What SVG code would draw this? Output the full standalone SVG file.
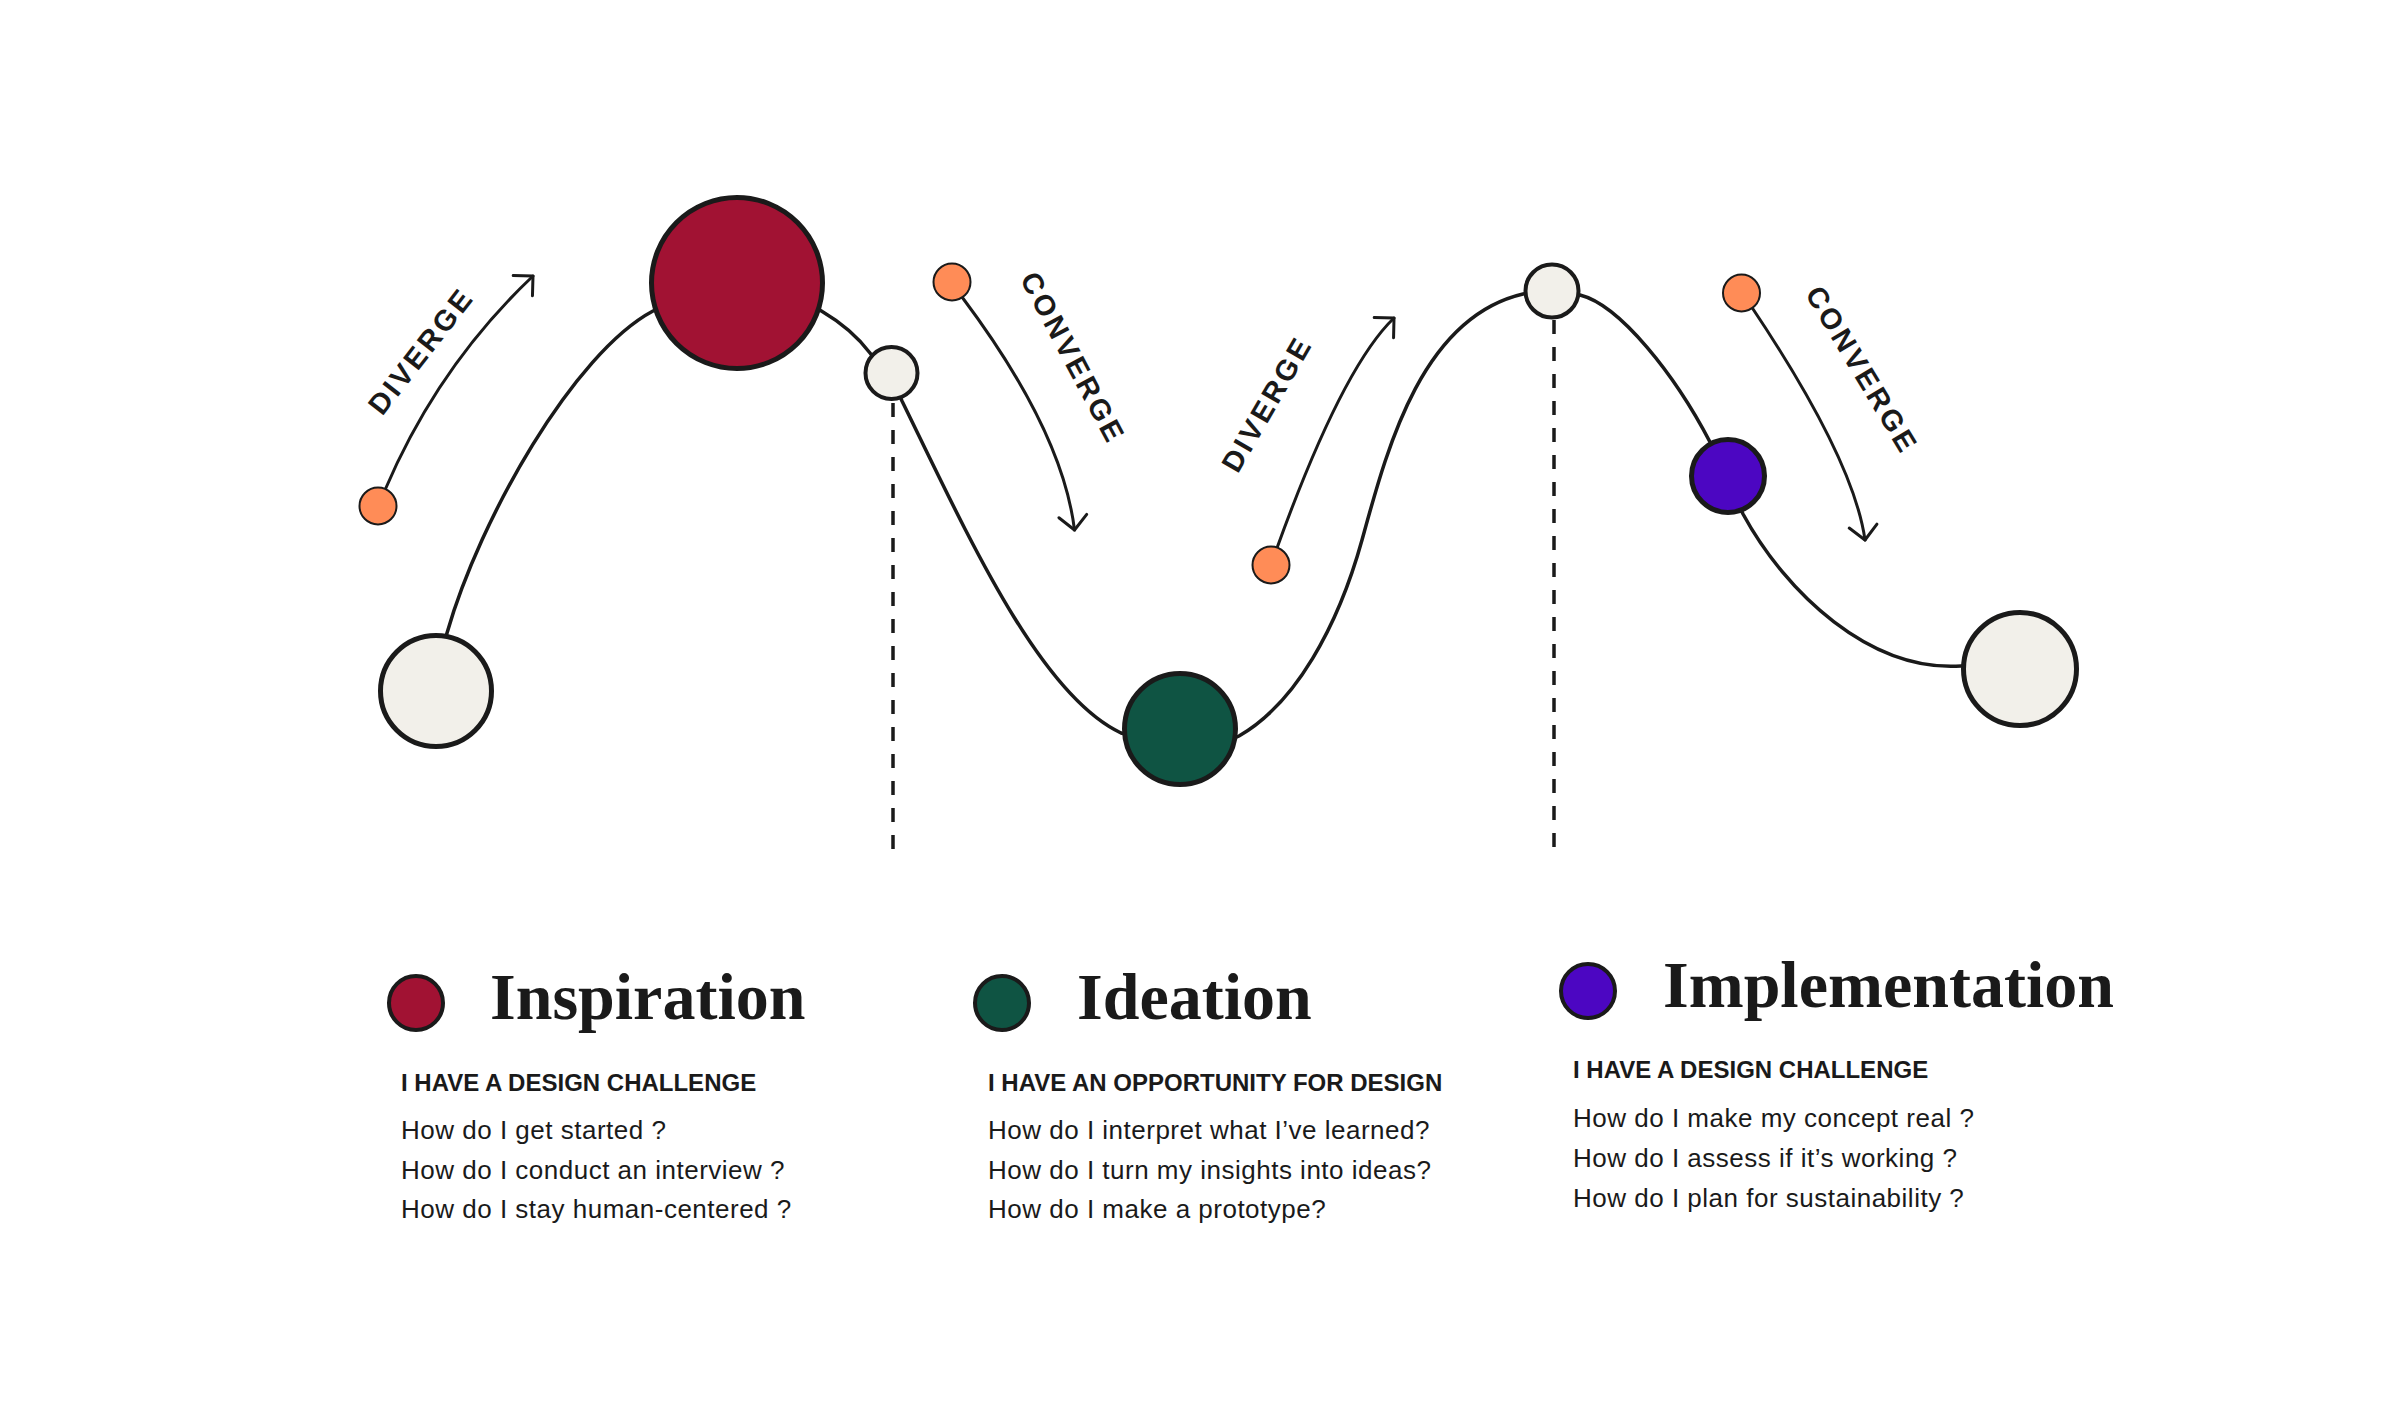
<svg xmlns="http://www.w3.org/2000/svg" width="2384" height="1408" viewBox="0 0 2384 1408">
<defs>
<style>
.curve{fill:none;stroke:#1a1a1a;stroke-width:3.5;stroke-linecap:round}
.arrow{fill:none;stroke:#1a1a1a;stroke-width:3;stroke-linecap:round}
.dash{fill:none;stroke:#1a1a1a;stroke-width:3.5;stroke-dasharray:14 13}
.big{stroke:#1a1a1a;stroke-width:5}
.small{stroke:#1a1a1a;stroke-width:4}
.dot{fill:#ff8c57;stroke:#1a1a1a;stroke-width:2}
.white{fill:#f2f0ea}
.phase{font-family:"Liberation Serif","Times New Roman",serif;font-weight:700;font-size:66px;fill:#1a1a1a}
.head{font-family:"Liberation Sans",Arial,sans-serif;font-weight:700;font-size:24px;fill:#1a1a1a}
.body{font-family:"Liberation Sans",Arial,sans-serif;font-size:26px;letter-spacing:0.5px;fill:#1a1a1a}
.lbl{font-family:"Liberation Sans",Arial,sans-serif;font-weight:700;font-size:29px;letter-spacing:3px;fill:#1a1a1a}
</style>
<marker id="ah" markerUnits="userSpaceOnUse" markerWidth="40" markerHeight="40" viewBox="-20 -20 40 40" refX="0" refY="0" orient="auto">
<path d="M -14 -14 L 0 0 L -14 14" fill="none" stroke="#1a1a1a" stroke-width="3" stroke-linecap="round" stroke-linejoin="round"/>
</marker>
</defs>
<rect width="2384" height="1408" fill="#ffffff"/>

<g id="connectors">
<path class="curve" d="M 443 648 L 447 633 C 480 518, 574 353, 653 311 L 670 303"/>
<path class="curve" d="M 815 307 L 823 312 C 840 322, 857 336, 870 353 L 876 361"/>
<path class="curve" d="M 897 390 L 902 401 C 968 536, 1039.5 694.8, 1121 733 L 1130 735"/>
<path class="curve" d="M 1230 740 L 1239 736 C 1295 704, 1338 626.8, 1362 540 C 1386 453.2, 1420 318, 1523 294 L 1535 292"/>
<path class="curve" d="M 1570 293 L 1580 295 C 1620 305, 1675 375, 1710 442 L 1715 452"/>
<path class="curve" d="M 1738 503 L 1743 514 C 1786 593, 1870 672, 1961 666 L 1975 665"/>
<line class="dash" x1="893" y1="403" x2="893" y2="854"/>
<line class="dash" x1="1554" y1="320" x2="1554" y2="854"/>
<path class="arrow" d="M 385 490 Q 437.8 366.1 533 276" marker-end="url(#ah)"/>
<path class="arrow" d="M 962 297 Q 1062.5 431 1074.5 530" marker-end="url(#ah)"/>
<path class="arrow" d="M 1277 548 Q 1342.2 367.6 1394 318" marker-end="url(#ah)"/>
<path class="arrow" d="M 1751 306 Q 1853.8 459.4 1865 540" marker-end="url(#ah)"/>
</g>

<g id="labels">
<text class="lbl" text-anchor="middle" transform="translate(421 351) rotate(-52)" x="0" y="10">DIVERGE</text>
<text class="lbl" text-anchor="middle" transform="translate(1073 358) rotate(62)" x="0" y="10">CONVERGE</text>
<text class="lbl" text-anchor="middle" transform="translate(1267 404) rotate(-60)" x="0" y="10">DIVERGE</text>
<text class="lbl" text-anchor="middle" transform="translate(1862 370) rotate(59)" x="0" y="10">CONVERGE</text>
</g>

<g id="node-start"><circle class="big white" cx="436" cy="691" r="55.5"/></g>
<g id="node-inspiration"><circle class="big" fill="#a11233" cx="737" cy="283" r="85.5"/></g>
<g id="node-gate1"><circle class="small white" cx="891.5" cy="373" r="26"/></g>
<g id="node-ideation"><circle class="big" fill="#0f5443" cx="1180" cy="729" r="55.5"/></g>
<g id="node-gate2"><circle class="small white" cx="1552" cy="291" r="26.5"/></g>
<g id="node-implementation"><circle class="big" fill="#4c06c2" cx="1728" cy="476" r="36.5"/></g>
<g id="node-end"><circle class="big white" cx="2020" cy="669" r="56.5"/></g>

<g id="dot-diverge1"><circle class="dot" cx="378" cy="506" r="18.5"/></g>
<g id="dot-converge1"><circle class="dot" cx="952" cy="282" r="18.5"/></g>
<g id="dot-diverge2"><circle class="dot" cx="1271" cy="565" r="18.5"/></g>
<g id="dot-converge2"><circle class="dot" cx="1741.5" cy="293" r="18.5"/></g>

<g id="legend-inspiration">
<circle class="small" fill="#a11233" cx="416" cy="1003" r="27"/>
<text class="phase" x="490" y="1019">Inspiration</text>
<text class="head" x="401" y="1091">I HAVE A DESIGN CHALLENGE</text>
<text class="body" x="401" y="1139">How do I get started ?</text>
<text class="body" x="401" y="1179">How do I conduct an interview ?</text>
<text class="body" x="401" y="1218">How do I stay human-centered ?</text>
</g>

<g id="legend-ideation">
<circle class="small" fill="#0f5443" cx="1002" cy="1003" r="27"/>
<text class="phase" x="1077" y="1019">Ideation</text>
<text class="head" x="988" y="1091">I HAVE AN OPPORTUNITY FOR DESIGN</text>
<text class="body" x="988" y="1139">How do I interpret what I’ve learned?</text>
<text class="body" x="988" y="1179">How do I turn my insights into ideas?</text>
<text class="body" x="988" y="1218">How do I make a prototype?</text>
</g>

<g id="legend-implementation">
<circle class="small" fill="#4c06c2" cx="1588" cy="991" r="27"/>
<text class="phase" x="1663" y="1007">Implementation</text>
<text class="head" x="1573" y="1078">I HAVE A DESIGN CHALLENGE</text>
<text class="body" x="1573" y="1127">How do I make my concept real ?</text>
<text class="body" x="1573" y="1167">How do I assess if it’s working ?</text>
<text class="body" x="1573" y="1207">How do I plan for sustainability ?</text>
</g>
</svg>
